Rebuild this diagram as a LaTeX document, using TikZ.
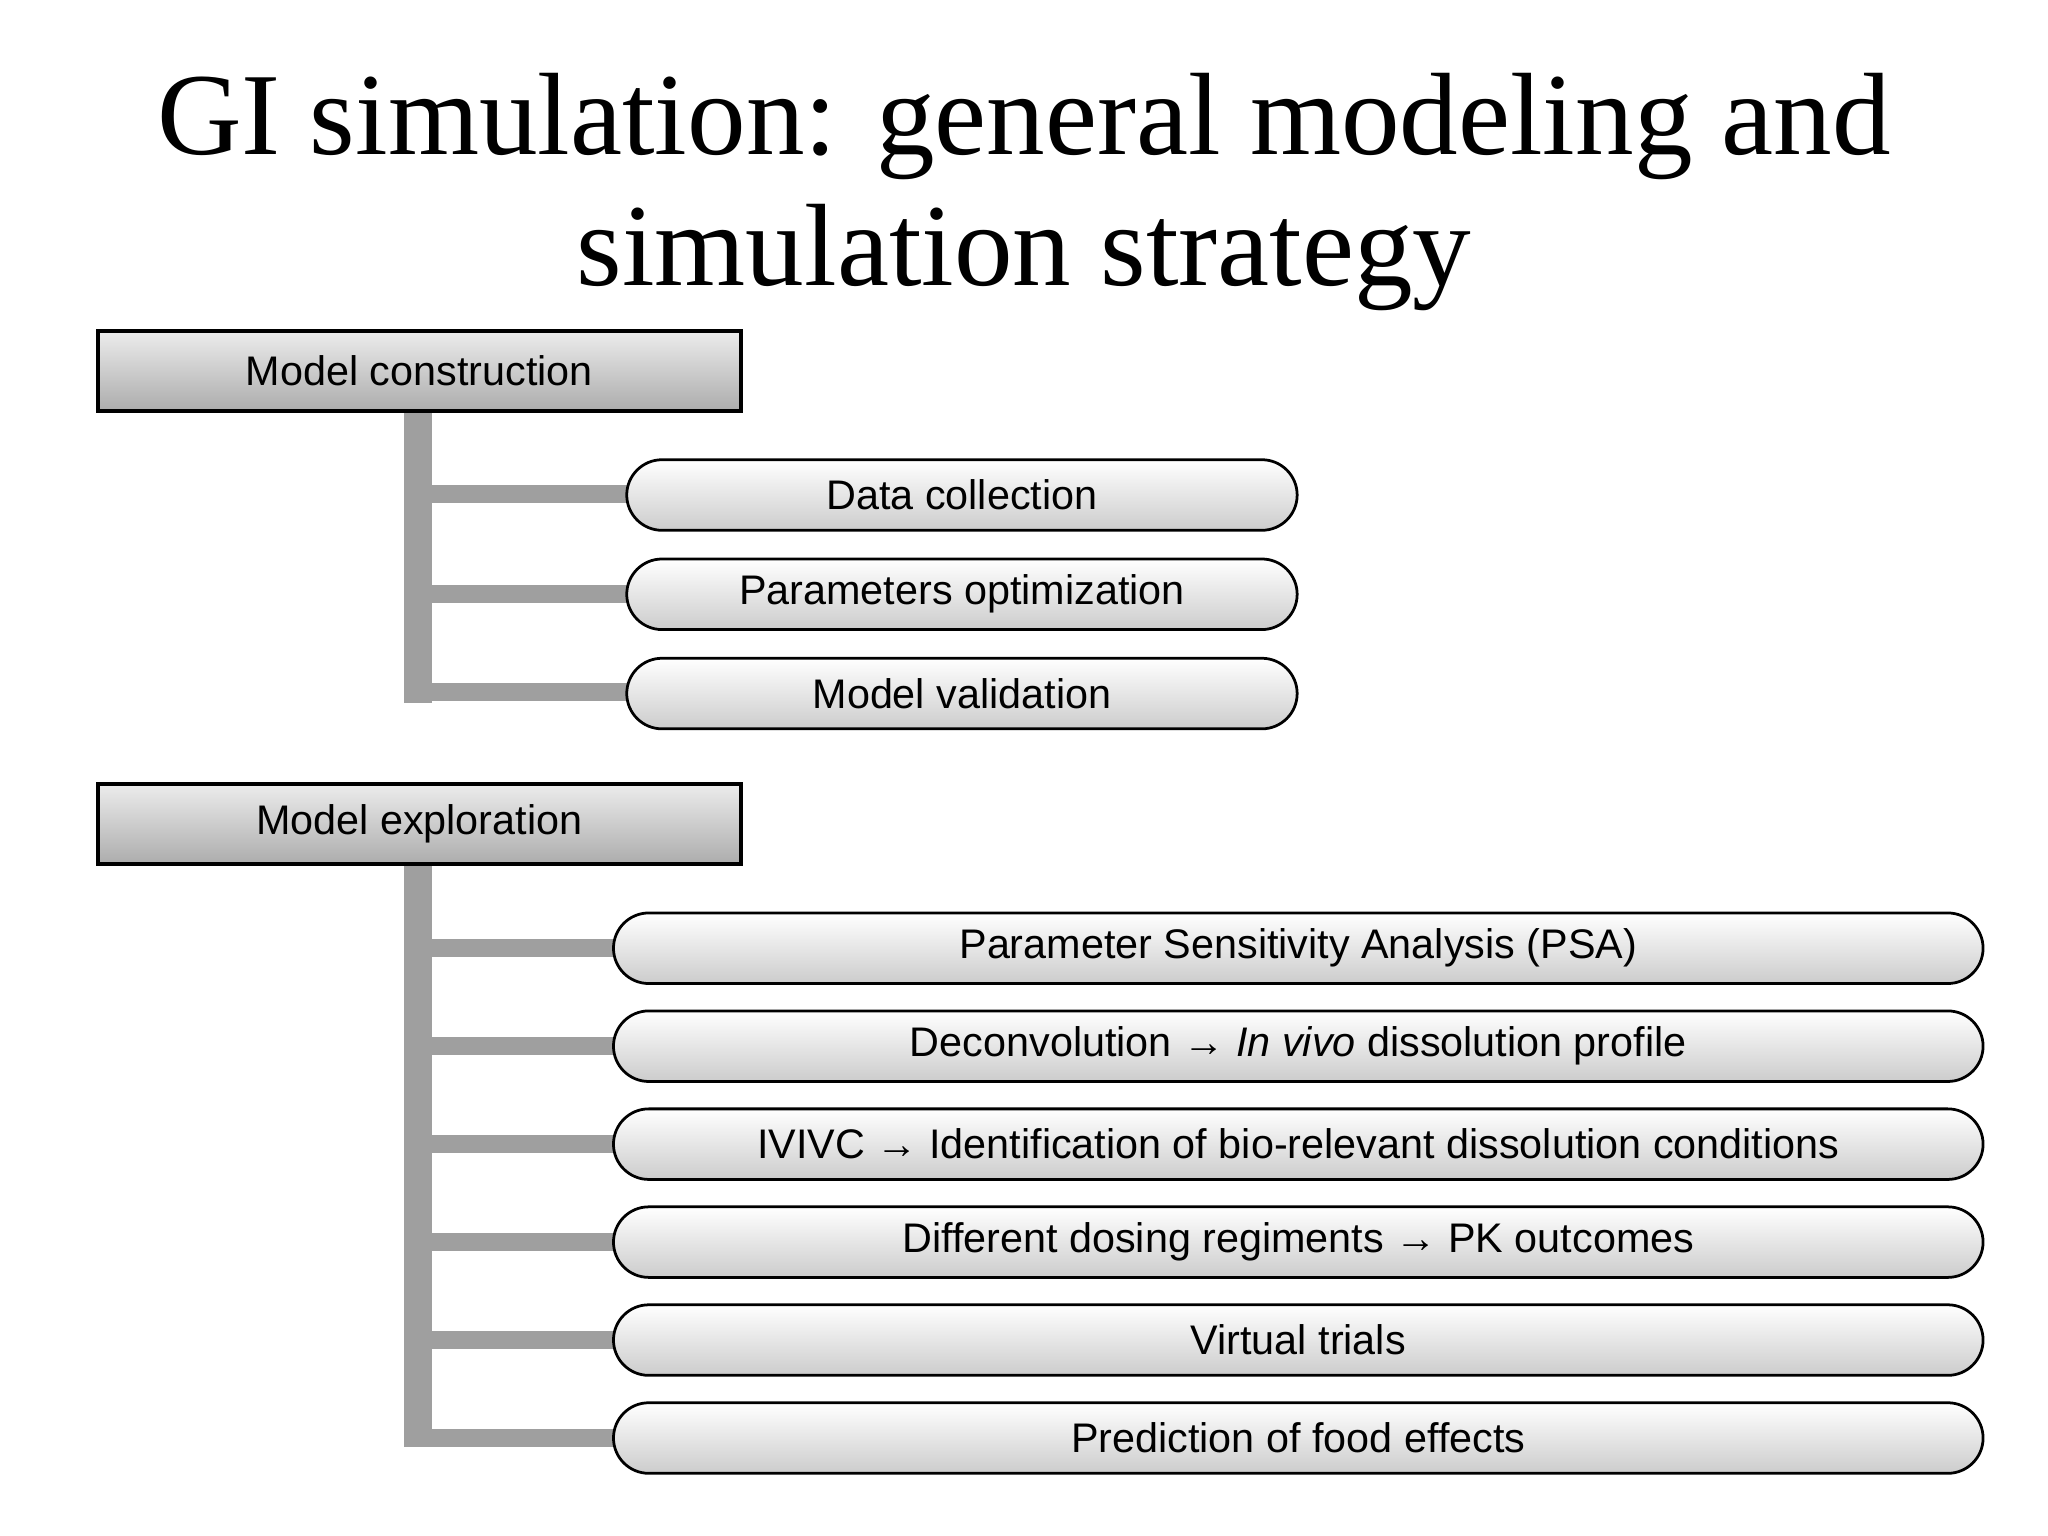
\documentclass[tikz,border=0pt]{standalone}
\usepackage{fontspec}
\setmainfont{Liberation Serif}
\newfontfamily\lsans{Liberation Sans}
\begin{document}
\begin{tikzpicture}[x=0.01cm,y=-0.01cm,
  hdr/.style={draw=black,line width=0.8pt,minimum width=4.92cm,minimum height=0.61cm,
    top color=gray!15,bottom color=gray!65,font=\lsans\fontsize{9}{10}\selectfont,inner sep=0pt},
  pill/.style={draw=black,line width=0.6pt,rounded corners=0.27cm,minimum height=0.54cm,
    top color=white,bottom color=gray!40,font=\lsans\fontsize{9}{10}\selectfont,inner sep=0pt},
  bar/.style={fill=gray!75,draw=none}]
\useasboundingbox (0,0) rectangle (1568,1176);
\fill[white] (0,0) rectangle (1568,1176);
\node[font=\fontsize{25.5}{28.5}\selectfont,align=center] (title) at (784,147)
  {GI simulation: general modeling and\\simulation strategy};
% construction
\fill[bar] (309,314) rectangle (331,538);
\foreach \y in {378,455,530} \fill[bar] (331,\y-7) rectangle (482,\y+7);
\node[hdr] (mc) at (321,284) {Model construction};
\node[pill,minimum width=5.13cm] (dc) at (736.5,379) {Data collection};
\node[pill,minimum width=5.13cm] (po) at (736.5,455) {Parameters optimization};
\node[pill,minimum width=5.13cm] (mv) at (736.5,531) {Model validation};
% exploration
\fill[bar] (309,662) rectangle (331,1108);
\foreach \y in {726,801,876,951,1026,1101} \fill[bar] (331,\y-7) rectangle (472,\y+7);
\node[hdr] (me) at (321,631) {Model exploration};
\begin{scope}[every node/.style={pill,minimum width=10.48cm}]
\node (p1) at (994,726) {Parameter Sensitivity Analysis (PSA)};
\node (p2) at (994,801) {Deconvolution → \textit{In vivo} dissolution profile};
\node (p3) at (994,876) {IVIVC → Identification of bio-relevant dissolution conditions};
\node (p4) at (994,951) {Different dosing regiments → PK outcomes};
\node (p5) at (994,1026) {Virtual trials};
\node (p6) at (994,1101) {Prediction of food effects};
\end{scope}
\end{tikzpicture}
\end{document}
